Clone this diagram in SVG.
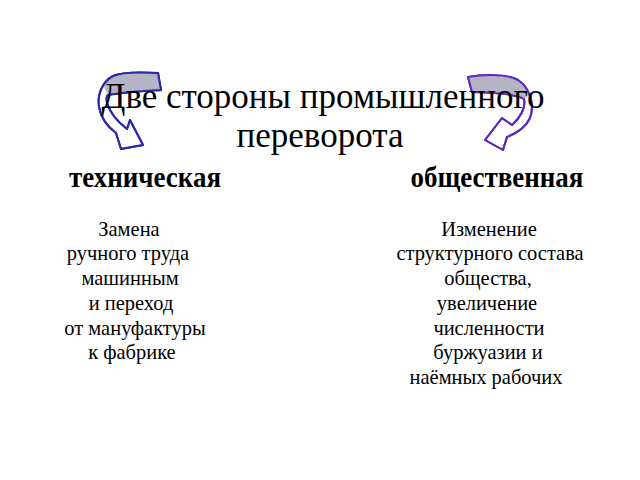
<svg xmlns="http://www.w3.org/2000/svg" width="640" height="480" viewBox="0 0 640 480">
<style>
.t{font-family:"Liberation Serif","Times New Roman",serif;fill:#000;text-anchor:middle}
.title{font-size:35px}
.sub{font-size:29px;font-weight:bold}
.body{font-size:22px}
.arr{stroke-width:2;stroke-linejoin:round}
.band{fill:#b4b4c4;stroke:none}
</style>
<rect width="640" height="480" fill="#fff"/>
<g id="arrow-left">
<path class="arr" d="M158,73 C140,72 122,72 113,76 C102,82 97,95 99,107 C101,118 108,127 116,133 L121,149 L143,145 L130,120 L127,129 C118,122 110,113 107,103 C106,99 107,96 108,95 C125,92 145,91 161,90 Z" fill="#fff" stroke="#2a2aa8"/>
<path class="band" d="M104,84 C106,79 110,76 113,76 C122,72 140,72 158,73 L161,90 C145,91 125,92 108,95 C106,91 104,88 104,84 Z"/>
<path d="M158,73 C140,72 122,72 113,76 C102,82 97,95 99,107 C101,118 108,127 116,133 L121,149 L143,145 L130,120 L127,129 C118,122 110,113 107,103 C106,99 107,96 108,95 C125,92 145,91 161,90 Z" fill="none" stroke="#2a2aa8" stroke-width="2" stroke-linejoin="round"/>
</g>
<g id="arrow-right">
<path class="arr" d="M468,77 C480,75 505,73 518,80 C530,88 535,105 530,118 C526,127 517,133 507,137 L503,150 L485,140 L502,118 L512,125 C520,118 526,108 524,99 C515,94 490,92 472,92 Z" fill="#fff" stroke="#5a2cb8"/>
<path class="band" d="M468,77 C480,75 505,73 518,80 C524,84 527,90 528,96 C527,97 525,98 524,99 C515,94 490,92 472,92 Z"/>
<path d="M468,77 C480,75 505,73 518,80 C530,88 535,105 530,118 C526,127 517,133 507,137 L503,150 L485,140 L502,118 L512,125 C520,118 526,108 524,99 C515,94 490,92 472,92 Z" fill="none" stroke="#5a2cb8" stroke-width="2" stroke-linejoin="round"/>
</g>
<g id="title">
<text class="t title" x="323" y="108">Две стороны промышленного</text>
<text class="t title" x="320" y="147">переворота</text>
</g>
<g id="col-left" transform="scale(0.93 1)">
<text class="t sub" x="156" y="187">техническая</text>
<text class="t body" x="138.7" y="236">Замена</text>
<text class="t body" x="137.6" y="260">ручного труда</text>
<text class="t body" x="139.8" y="285">машинным</text>
<text class="t body" x="140.9" y="310">и переход</text>
<text class="t body" x="145.2" y="335">от мануфактуры</text>
<text class="t body" x="141.9" y="359">к фабрике</text>
</g>
<g id="col-right" transform="scale(0.93 1)">
<text class="t sub" x="534.4" y="187">общественная</text>
<text class="t body" x="525.8" y="236">Изменение</text>
<text class="t body" x="526.9" y="260">структурного состава</text>
<text class="t body" x="524.7" y="285">общества,</text>
<text class="t body" x="523.7" y="310">увеличение</text>
<text class="t body" x="525.8" y="335">численности</text>
<text class="t body" x="524.7" y="359">буржуазии и</text>
<text class="t body" x="522.6" y="384">наёмных рабочих</text>
</g>
</svg>
